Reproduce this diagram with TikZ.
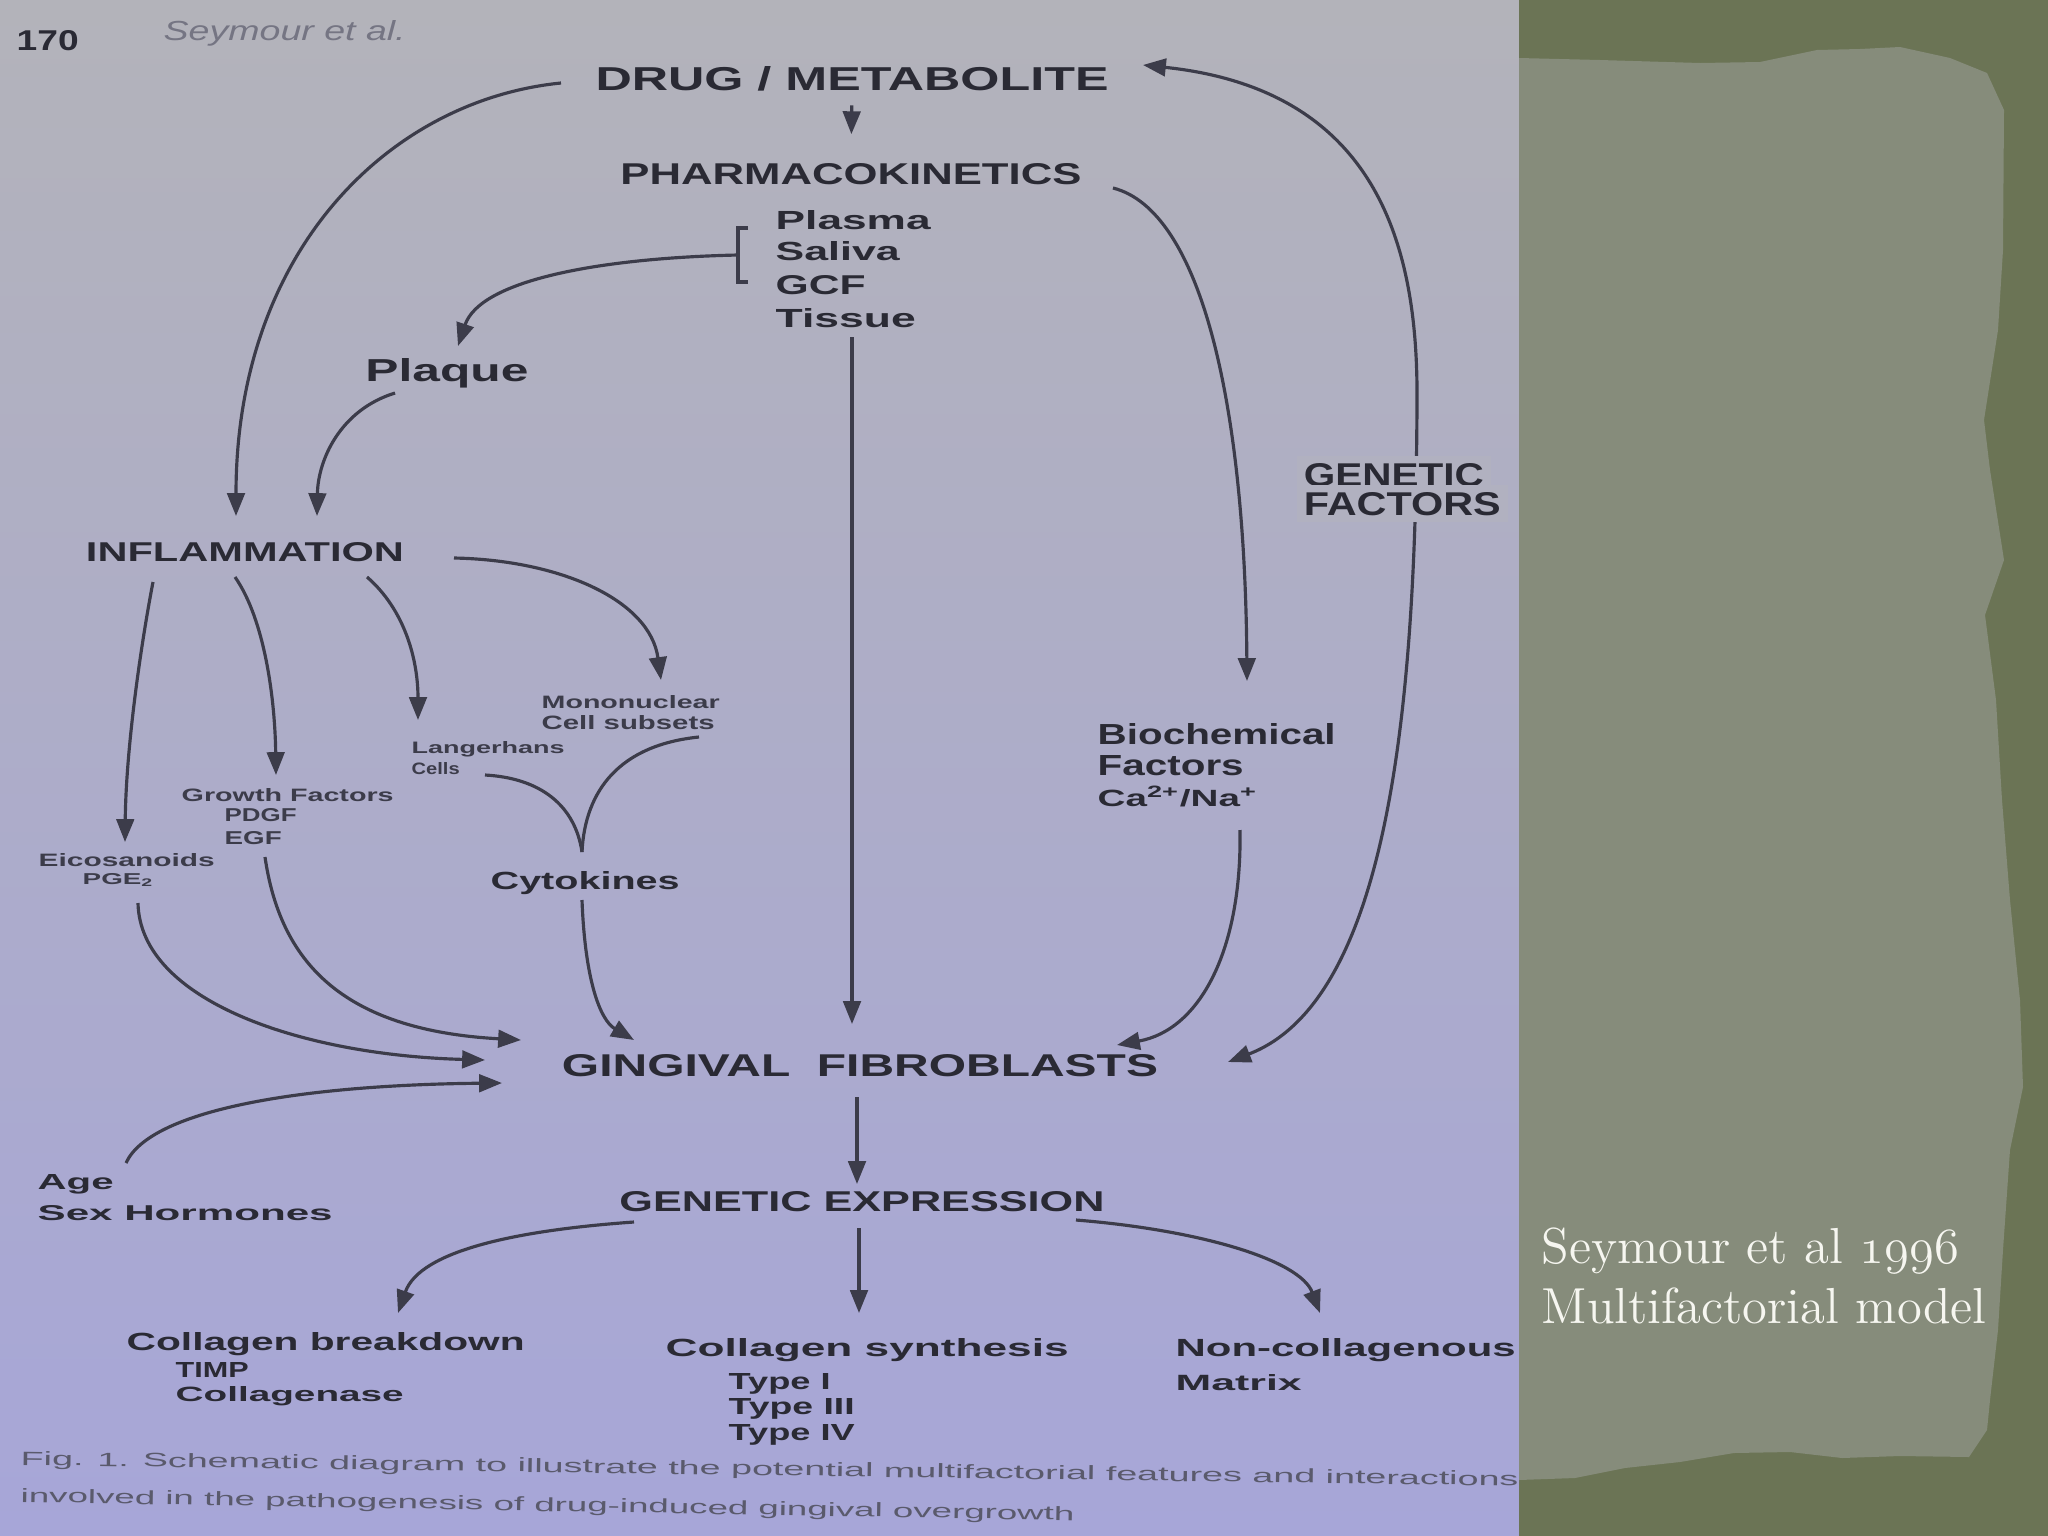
\documentclass[tikz,border=0pt]{standalone}
\usepackage{fontspec}
\usepackage{graphicx}
\usetikzlibrary{arrows.meta}
\newfontfamily\dsf{Liberation Sans}
\newlength\pxu
\setlength\pxu{0.01cm}
\newcommand\lb[3]{\resizebox{#1\pxu}{#2\pxu}{#3}}
\newcommand\osnum[1]{$\mathnormal{#1}$}
\definecolor{bgtop}{HTML}{B3B3BA}
\definecolor{bgmid}{HTML}{AFAFC8}
\definecolor{bgbot}{HTML}{A7A6D8}
\definecolor{ink}{HTML}{2A2A34}
\definecolor{inkl}{HTML}{3C3C4A}
\definecolor{inkf}{HTML}{5A5A6C}
\definecolor{moss}{HTML}{6B7455}
\definecolor{paper}{HTML}{868C7B}
\definecolor{gfbg}{HTML}{B1B1C0}
\definecolor{slidetext}{HTML}{F6F6F0}
\tikzset{
  lab/.style={inner sep=0pt, text=ink, font=\dsf\bfseries},
  sm/.style={inner sep=0pt, text=inkl, font=\dsf\bfseries},
  captxt/.style={inner sep=0pt, text=inkf, font=\dsf},
  con/.style={draw=inkl, line width=0.9pt},
  arr/.style={con, -{Triangle[length=6.5pt,width=5pt]}},
  darr/.style={con, {Triangle[length=6.5pt,width=5pt]}-{Triangle[length=6.5pt,width=5pt]}},
  slide/.style={inner sep=0pt, text=slidetext, font=\fontsize{14.4}{17}\selectfont},
}
\begin{document}
\begin{tikzpicture}[x=0.01cm,y=-0.01cm]
\useasboundingbox (0,0) rectangle (2048,1536);
% photo background
\shade[top color=bgtop, middle color=bgmid, bottom color=bgbot] (0,0) rectangle (1519,1536);
% slide background
\fill[moss] (1519,0) rectangle (2048,1536);
\fill[paper] (1519,58) -- (1600,60) -- (1700,63) -- (1760,62) -- (1817,50) -- (1860,49) -- (1900,47) -- (1950,58) -- (1987,73) -- (2004,110) -- (2003,250) -- (1998,330) -- (1984,420) -- (1990,470) -- (2004,560) -- (1985,615) -- (1996,700) -- (2002,800) -- (2010,900) -- (2020,1000) -- (2023,1087) -- (2010,1150) -- (2003,1250) -- (1998,1330) -- (1990,1400) -- (1987,1430) -- (1969,1457) -- (1900,1456) -- (1842,1458) -- (1790,1452) -- (1734,1453) -- (1680,1462) -- (1625,1468) -- (1575,1478) -- (1519,1480) -- cycle;
\node[slide, anchor=base west] (s1) at (1541,1263) {Seymour et al \osnum{1996}};
\node[slide, anchor=base west] (s2) at (1541,1323) {Multifactorial model};

% header
\node[lab, anchor=base west] (pg) at (16,50) {\lb{62}{20}{170}};
\node[captxt, anchor=base west, text=inkf!70!bgtop] (run) at (163,40) {\lb{242}{20}{\itshape Seymour et al.}};

% main nodes
\node[lab, anchor=base] (drug) at (852,90) {\lb{513}{24}{DRUG / METABOLITE}};
\node[lab, anchor=base] (pk) at (851,184) {\lb{461}{21}{PHARMACOKINETICS}};
\node[lab, anchor=base west] (plasma) at (775,229) {\lb{155}{19}{Plasma}};
\node[lab, anchor=base west] (saliva) at (775,260) {\lb{124}{19}{Saliva}};
\node[lab, anchor=base west] (gcf) at (775,294) {\lb{90}{19}{GCF}};
\node[lab, anchor=base west] (tissue) at (775,327) {\lb{140}{19}{Tissue}};
\node[lab, anchor=base] (plaque) at (447,381) {\lb{163}{23}{Plaque}};
\node[lab, anchor=base] (inflam) at (245,561) {\lb{318}{19}{INFLAMMATION}};
\node[lab, anchor=base west] (bio1) at (1097,744) {\lb{238}{21}{Biochemical}};
\node[lab, anchor=base west] (bio2) at (1097,775) {\lb{146}{20}{Factors}};
\node[lab, anchor=base west] (bio3) at (1097,806) {\lb{160}{20}{Ca\textsuperscript{2+}/Na\textsuperscript{+}}};
\node[sm, anchor=base west] (mono1) at (541,708) {\lb{178}{13}{Mononuclear}};
\node[sm, anchor=base west] (mono2) at (541,729) {\lb{173}{14}{Cell subsets}};
\node[sm, anchor=base west] (lang1) at (411,753) {\lb{153}{12}{Langerhans}};
\node[sm, anchor=base west] (lang2) at (411,774) {\lb{48}{12}{Cells}};
\node[sm, anchor=base west] (grow1) at (181,801) {\lb{212}{13}{Growth Factors}};
\node[sm, anchor=base west] (grow2) at (224,821) {\lb{72}{13}{PDGF}};
\node[sm, anchor=base west] (grow3) at (224,844) {\lb{57}{13}{EGF}};
\node[sm, anchor=base west] (eic1) at (38,866) {\lb{176}{13}{Eicosanoids}};
\node[sm, anchor=base west] (eic2) at (82,884) {\lb{71}{11}{PGE\textsubscript{2}}};
\node[lab, anchor=base west] (cyto) at (490,889) {\lb{189}{18}{Cytokines}};
\node[lab, anchor=base] (gfb) at (860,1076) {\lb{596}{22}{GINGIVAL\ \ FIBROBLASTS}};
\node[lab, anchor=base] (ge) at (862,1211) {\lb{485}{20}{GENETIC EXPRESSION}};
\node[lab, anchor=base west] (age) at (37,1189) {\lb{76}{15}{Age}};
\node[lab, anchor=base west] (sex) at (37,1220) {\lb{295}{15}{Sex Hormones}};
\node[lab, anchor=base west] (cb) at (126,1350) {\lb{398}{18}{Collagen breakdown}};
\node[lab, anchor=base west] (timp) at (175,1377) {\lb{73}{15}{TIMP}};
\node[lab, anchor=base west] (coll) at (175,1401) {\lb{228}{15}{Collagenase}};
\node[lab, anchor=base west] (cs) at (665,1356) {\lb{403}{18}{Collagen synthesis}};
\node[lab, anchor=base west] (t1) at (728,1389) {\lb{102}{16}{Type I}};
\node[lab, anchor=base west] (t3) at (728,1414) {\lb{126}{16}{Type III}};
\node[lab, anchor=base west] (t4) at (728,1440) {\lb{126}{16}{Type IV}};
\node[lab, anchor=base west] (nc) at (1175,1356) {\lb{340}{18}{Non-collagenous}};
\node[lab, anchor=base west] (mat) at (1175,1390) {\lb{126}{16}{Matrix}};
\node[captxt, anchor=base west, rotate=-0.8] (cap1) at (20,1465) {\lb{1498}{14}{Fig. 1. Schematic diagram to illustrate the potential multifactorial features and interactions}};
\node[captxt, anchor=base west, rotate=-1.0] (cap2) at (20,1502) {\lb{1054}{14}{involved in the pathogenesis of drug-induced gingival overgrowth}};

% connector end points
\coordinate (drugL) at (561,83);
\coordinate (drugR) at (1143,65);
\coordinate (brk) at (738,255);
\coordinate (plaqIn) at (458,346);
\coordinate (plaqOut) at (395,393);
\coordinate (inflIn1) at (236,516);
\coordinate (inflIn2) at (317,516);
\coordinate (tisB) at (852,337);
\coordinate (gfbT) at (852,1024);
\coordinate (pkR) at (1113,188);
\coordinate (bioIn) at (1247,681);
\coordinate (bioOut) at (1240,830);
\coordinate (gfbR1) at (1117,1045);
\coordinate (gfbR2) at (1228,1062);
\coordinate (gfbB) at (857,1097);
\coordinate (geT) at (857,1184);
\coordinate (geL) at (634,1222);
\coordinate (geM) at (859,1228);
\coordinate (geR) at (1076,1220);
\coordinate (cbIn) at (398,1313);
\coordinate (csIn) at (859,1313);
\coordinate (ncIn) at (1320,1313);
\coordinate (inf1) at (153,582);
\coordinate (inf2) at (235,577);
\coordinate (inf3) at (367,577);
\coordinate (inf4) at (454,558);
\coordinate (eicIn) at (125,842);
\coordinate (growIn) at (276,775);
\coordinate (langIn) at (418,720);
\coordinate (monoIn) at (661,680);
\coordinate (langOut) at (485,775);
\coordinate (monoOut) at (699,737);
\coordinate (cytoT) at (582,852);
\coordinate (cytoB) at (582,900);
\coordinate (eicOut) at (138,903);
\coordinate (growOut) at (265,857);
\coordinate (ageOut) at (126,1163);
\coordinate (gfbC) at (634,1040);
\coordinate (gfbL1) at (521,1040);
\coordinate (gfbL2) at (485,1060);
\coordinate (gfbL3) at (502,1083);
\coordinate (brkT) at (748,228);
\coordinate (brkB) at (748,282);

% connectors
\draw[arr, shorten <=4pt, shorten >=8pt] (drug.south) -- (pk.north);
\draw[arr] (drugL) .. controls (390,100) and (236,250) .. (inflIn1);
\draw[con] (brkT) -- ++(-10,0) -- ++(0,54) -- (brkB);
\draw[arr] (brk) .. controls (600,258) and (480,280) .. (plaqIn);
\draw[arr] (plaqOut) .. controls (340,410) and (318,460) .. (inflIn2);
\draw[arr] (tisB) -- (gfbT);
\draw[arr] (pkR) .. controls (1200,210) and (1245,400) .. (bioIn);
\draw[arr] (bioOut) .. controls (1242,950) and (1200,1030) .. (gfbR1);
\draw[darr] (drugR) .. controls (1380,90) and (1418,250) .. (1417,400) .. controls (1416,700) and (1390,1000) .. (gfbR2);
\node[lab, anchor=base west, fill=gfbg, inner sep=2pt] (genf1) at (1296,486) {\lb{180}{23}{GENETIC}};
\node[lab, anchor=base west, fill=gfbg, inner sep=2pt] (genf2) at (1296,515) {\lb{197}{23}{FACTORS}};
\draw[arr] (gfbB) -- (geT);
\draw[arr] (geL) .. controls (520,1230) and (420,1250) .. (cbIn);
\draw[arr] (geM) -- (csIn);
\draw[arr] (geR) .. controls (1200,1230) and (1300,1260) .. (ncIn);
\draw[arr] (inf1) .. controls (140,650) and (126,750) .. (eicIn);
\draw[arr] (inf2) .. controls (265,620) and (275,700) .. (growIn);
\draw[arr] (inf3) .. controls (405,610) and (418,660) .. (langIn);
\draw[arr] (inf4) .. controls (560,560) and (650,600) .. (monoIn);
\draw[con] (langOut) .. controls (540,778) and (575,805) .. (cytoT);
\draw[con] (monoOut) .. controls (620,745) and (585,790) .. (cytoT);
\draw[arr] (cytoB) .. controls (585,980) and (600,1020) .. (gfbC);
\draw[arr] (eicOut) .. controls (140,1000) and (300,1055) .. (gfbL2);
\draw[arr] (growOut) .. controls (280,960) and (340,1030) .. (gfbL1);
\draw[arr] (ageOut) .. controls (150,1110) and (300,1085) .. (gfbL3);
\end{tikzpicture}
\end{document}
